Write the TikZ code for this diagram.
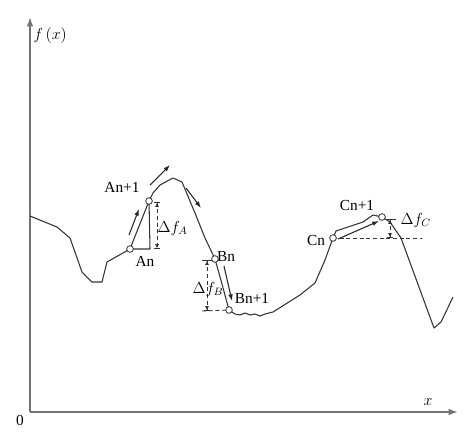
\documentclass[tikz,border=0pt]{standalone}
\usepackage{fontspec}
\setmainfont{Liberation Serif}
\usetikzlibrary{arrows.meta}

\begin{document}
\begin{tikzpicture}[x=0.75pt, y=-0.75pt, font=\fontsize{11.5}{13}\selectfont,
  axis/.style={draw=black!55, line width=1.3pt, -{Latex[length=7pt,width=5pt]}},
  curve/.style={draw=black!80, line width=0.8pt, line join=round},
  pt/.style={circle, draw=black!80, fill=white, line width=0.6pt, inner sep=0pt, minimum size=5pt},
  mv/.style={draw=black!85, line width=0.8pt, -{Latex[length=5pt,width=3.5pt]}},
  ext/.style={draw=black!80, line width=0.6pt, dash pattern=on 3pt off 2pt},
  dim/.style={ext, {Bar[width=5pt]Latex[length=3pt,width=3pt]}-{Latex[length=3pt,width=3pt]Bar[width=5pt]}},
  lab/.style={inner sep=1pt}]
\useasboundingbox (0,0) rectangle (474,440);

%% ===================== axes =====================
\coordinate (O) at (30,412);
\coordinate (yend) at (30,17);
\coordinate (xend) at (458,412);
\draw[axis] (O) -- (yend);
\draw[axis] (O) -- (xend);
\node[lab, anchor=west] (lf) at (32,35) {$f\,(x)$};
\node[lab] (lx) at (428,402) {$x$};
\node[lab] (l0) at (20,420) {0};

%% ===================== sample points =====================
\coordinate (An)  at (130,249);
\coordinate (An1) at (149,201);
\coordinate (Ak)  at (150,249);
\coordinate (Bn)  at (215,259);
\coordinate (Bn1) at (229,310);
\coordinate (Cn)  at (333,238);
\coordinate (Cn1) at (382,217);

%% ===================== the curve =====================
\draw[curve] (30,216) -- (57,227) -- (70,238) -- (82,272) -- (92,282) -- (102,282)
  -- (107,262) -- (An) -- (An1) -- (153,193) -- (160,185) -- (173,178) -- (182,182)
  -- (195,213) -- (205,238) -- (Bn) -- (222,284) -- (Bn1) -- (235,314) -- (240,315)
  -- (245,313) -- (250,315) -- (255,314) -- (260,316) -- (265,314) -- (273,312)
  -- (300,295) -- (315,283) -- (325,260) -- (Cn) -- (336,231) -- (363,222)
  -- (373,215) -- (Cn1) -- (390,222) -- (401,238) -- (434,328) -- (441,322) -- (453,297);
\draw[curve] (An) -- (Ak) -- (An1);

%% ===================== step A =====================
\draw[mv] (129,235) -- (139,209);
\draw[mv] (150,185) -- (170,165);
\draw[dim] (157,202) -- (157,249);
\node[lab, anchor=west] (dA) at (156,228) {$\Delta f_A$};
\node[lab] (lAn1) at (122,187) {An+1};
\node[lab] (lAn) at (145,261) {An};

%% ===================== step B =====================
\draw[mv] (186,188) -- (201,208);
\draw[mv] (224,266) -- (232,301);
\draw[ext] (202,260) -- (212,260);
\draw[ext] (202,311) -- (Bn1);
\draw[dim] (207,260) -- (207,311);
\node[lab] (dB) at (208,289) {$\Delta f_B$};
\node[lab] (lBn) at (226,256) {Bn};
\node[lab] (lBn1) at (252,298) {Bn+1};

%% ===================== step C =====================
\draw[mv] (338,239) -- (379,221);
\draw[ext] (Cn) -- (422,238);
\draw[draw=black!80, line width=0.6pt] (389,219) -- (396,219);
\draw[dim] (390,219) -- (390,238);
\node[lab, anchor=west] (dC) at (399,220) {$\Delta f_C$};
\node[lab] (lCn) at (316,240) {Cn};
\node[lab] (lCn1) at (357,205) {Cn+1};

%% circles on top
\foreach \p in {An,An1,Bn,Bn1,Cn,Cn1}{\node[pt] at (\p) {};}

\end{tikzpicture}
\end{document}
